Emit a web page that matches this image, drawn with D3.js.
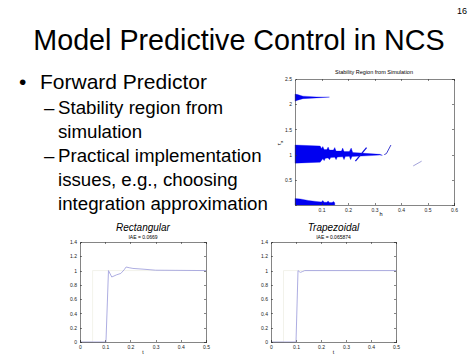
<!DOCTYPE html>
<html lang="en">
<head>
<meta charset="UTF-8">
<title>Model Predictive Control in NCS</title>
<script src="https://d3js.org/d3.v7.min.js"></script>
<style>
  body { margin: 0; background: #fff; }
  svg text { font-family: "Liberation Sans", Arial, sans-serif; }
  .ax path, .ax line { stroke: #333; stroke-width: 0.6; shape-rendering: crispEdges; }
  .ax text { font-size: 5px; fill: #222; }
</style>
</head>
<body>
<script>
// ---- stability region (h vs tau) ----
var stabXTicks = [0.1, 0.2, 0.3, 0.4, 0.5, 0.6];
var stabYTicks = [0.5, 1, 1.5, 2, 2.5];
var bandTop = [[0,2.06],[0,2.2],[0.01,2.19],[0.03,2.16],[0.08,2.145],[0.13,2.14],[0.08,2.125],[0.03,2.11],[0.01,2.08]];
var bandMid = [[0,1.19],[0.095,1.17],[0.1,1.12],[0.105,1.16],[0.11,1.1],[0.12,1.1],[0.125,1.15],[0.13,1.09],
  [0.145,1.09],[0.15,1.14],[0.155,1.07],[0.175,1.07],[0.18,1.13],[0.185,1.06],[0.205,1.06],[0.212,1.13],[0.218,1.04],
  [0.25,1.03],[0.32,1.005],[0.33,0.985],[0.32,0.99],[0.25,0.97],[0.215,0.96],[0.21,0.9],[0.205,0.965],[0.19,0.96],
  [0.185,0.9],[0.18,0.955],[0.16,0.95],[0.155,0.9],[0.15,0.945],[0.135,0.94],[0.13,0.9],[0.125,0.935],[0.115,0.93],
  [0.11,0.88],[0.105,0.92],[0.095,0.85],[0,0.83]];
var bandLow = [[0,0],[0,0.13],[0.02,0.12],[0.05,0.09],[0.08,0.07],[0.1,0.06],[0.105,0.09],[0.11,0.055],[0.12,0.055],
  [0.125,0.08],[0.13,0.05],[0.14,0.05],[0.145,0.07],[0.15,0.045],[0.15,0]];
var strokes = [
  {pts: [[0.228,0.87],[0.27,1.14]], color: "#1010e0", w: 1.3},
  {pts: [[0.337,1.0],[0.345,1.02],[0.362,1.19]], color: "#2828c8", w: 0.9},
  {pts: [[0.446,0.775],[0.478,0.87]], color: "#8c8cd0", w: 0.8}
];

// ---- step responses ----
var smallXTicks = [0, 0.1, 0.2, 0.3, 0.4, 0.5];
var smallYTicks = [0, 0.2, 0.4, 0.6, 0.8, 1, 1.2, 1.4];
var refT = [0, 0.05, 0.05, 0.5];
var refY = [0, 0, 1, 1];
var rectT = [0, 0.103, 0.113, 0.126, 0.145, 0.162, 0.175, 0.183, 0.195, 0.21, 0.25, 0.3, 0.5];
var rectY = [0, 0, 1.0, 0.91, 0.94, 0.96, 1.01, 1.05, 1.04, 1.03, 1.02, 1.005, 1.0];
var trapT = [0, 0.1, 0.108, 0.113, 0.118, 0.125, 0.135, 0.5];
var trapY = [0, 0, 1.0, 0.985, 0.975, 0.985, 1.0, 1.0];

var bullets = [
  {text: "Forward Predictor", x: 40, y: 89, size: 21, mark: "\u2022"},
  {text: "Stability region from", x: 58, y: 114, size: 18.7, mark: "\u2013"},
  {text: "simulation", x: 58, y: 138, size: 18.7},
  {text: "Practical implementation", x: 58, y: 162, size: 18.7, mark: "\u2013"},
  {text: "issues, e.g., choosing", x: 58, y: 186, size: 18.7},
  {text: "integration approximation", x: 58, y: 210, size: 18.7}
];

var width = 474, height = 355;
var svg = d3.select("body").append("svg").attr("width", width).attr("height", height);

svg.append("text").attr("x", 467).attr("y", 14).attr("text-anchor", "end")
  .style("font-size", "9px").text("16");
svg.append("text").attr("x", 239).attr("y", 50).attr("text-anchor", "middle")
  .style("font-size", "28.7px").text("Model Predictive Control in NCS");

bullets.forEach(function (b) {
  if (b.mark) {
    svg.append("text").attr("x", b.mark === "\u2022" ? 19 : 44).attr("y", b.y)
      .style("font-size", b.size + "px").text(b.mark);
  }
  svg.append("text").attr("x", b.x).attr("y", b.y)
    .style("font-size", b.size + "px").text(b.text);
});

// matlab-like box with inward ticks
function frame(x, y, xt, yt) {
  var g = svg.append("g");
  var r = x.range(), rr = y.range();
  var fmt = d3.format("~g");
  g.append("rect").attr("x", r[0]).attr("y", rr[1]).attr("width", r[1] - r[0]).attr("height", rr[0] - rr[1])
    .attr("fill", "#fff");
  g.append("g").attr("class", "ax").attr("transform", "translate(0," + rr[0] + ")")
    .call(d3.axisBottom(x).tickValues(xt).tickSize(-2).tickPadding(3).tickFormat(fmt));
  g.append("g").attr("class", "ax").attr("transform", "translate(0," + rr[1] + ")")
    .call(d3.axisTop(x).tickValues(xt).tickSize(-2).tickFormat(""));
  g.append("g").attr("class", "ax").attr("transform", "translate(" + r[0] + ",0)")
    .call(d3.axisLeft(y).tickValues(yt).tickSize(-2).tickPadding(3).tickFormat(fmt));
  g.append("g").attr("class", "ax").attr("transform", "translate(" + r[1] + ",0)")
    .call(d3.axisRight(y).tickValues(yt).tickSize(-2).tickFormat(""));
  return g;
}

// ---- stability plot ----
var sx = d3.scaleLinear().domain([0, 0.6]).range([295, 454]);
var sy = d3.scaleLinear().domain([0, 2.5]).range([205, 79]);
var sg = frame(sx, sy, stabXTicks, stabYTicks);
var area = d3.line().x(function (d) { return sx(d[0]); }).y(function (d) { return sy(d[1]); });
[bandTop, bandMid, bandLow].forEach(function (b) {
  sg.insert("path", ".ax").attr("d", area(b) + "Z").attr("fill", "#0000f0").attr("stroke", "#0000f0").attr("stroke-width", 0.3);
});
strokes.forEach(function (s) {
  sg.append("path").attr("d", area(s.pts)).attr("fill", "none").attr("stroke", s.color).attr("stroke-width", s.w);
});
svg.append("text").attr("x", 374).attr("y", 74).attr("text-anchor", "middle").style("font-size", "5.5px")
  .text("Stability Region from Simulation");
svg.append("text").attr("x", 381).attr("y", 216).attr("text-anchor", "middle").style("font-size", "5.5px").text("h");
svg.append("text").attr("transform", "translate(281,143) rotate(-90)").attr("text-anchor", "middle")
  .style("font-size", "5.5px").html("\u03c4<tspan dy='1.5' font-size='4px'>a</tspan>");

// ---- step responses ----
function stepPlot(x0, x1, label, iae, t, yv) {
  var x = d3.scaleLinear().domain([0, 0.5]).range([x0, x1]);
  var y = d3.scaleLinear().domain([0, 1.4]).range([342, 242]);
  var g = frame(x, y, smallXTicks, smallYTicks);
  var ln = d3.line().x(function (d) { return x(d[0]); }).y(function (d) { return y(d[1]); });
  g.insert("path", ".ax").attr("d", ln(d3.zip(refT, refY))).attr("fill", "none")
    .attr("stroke", "#efefe6").attr("stroke-width", 0.8);
  g.insert("path", ".ax").attr("d", ln(d3.zip(t, yv))).attr("fill", "none")
    .attr("stroke", "#a4a4de").attr("stroke-width", 0.9);
  var cx = (x0 + x1) / 2;
  svg.append("text").attr("x", cx).attr("y", 231).attr("text-anchor", "middle")
    .style("font-size", "10px").style("font-style", "italic").text(label);
  svg.append("text").attr("x", cx).attr("y", 239).attr("text-anchor", "middle")
    .style("font-size", "5px").text(iae);
  svg.append("text").attr("x", cx).attr("y", 354).attr("text-anchor", "middle")
    .style("font-size", "5px").text("t");
}
stepPlot(80, 206, "Rectangular", "IAE = 0.0669", rectT, rectY);
stepPlot(271, 396, "Trapezoidal", "IAE = 0.065874", trapT, trapY);
</script>
</body>
</html>
